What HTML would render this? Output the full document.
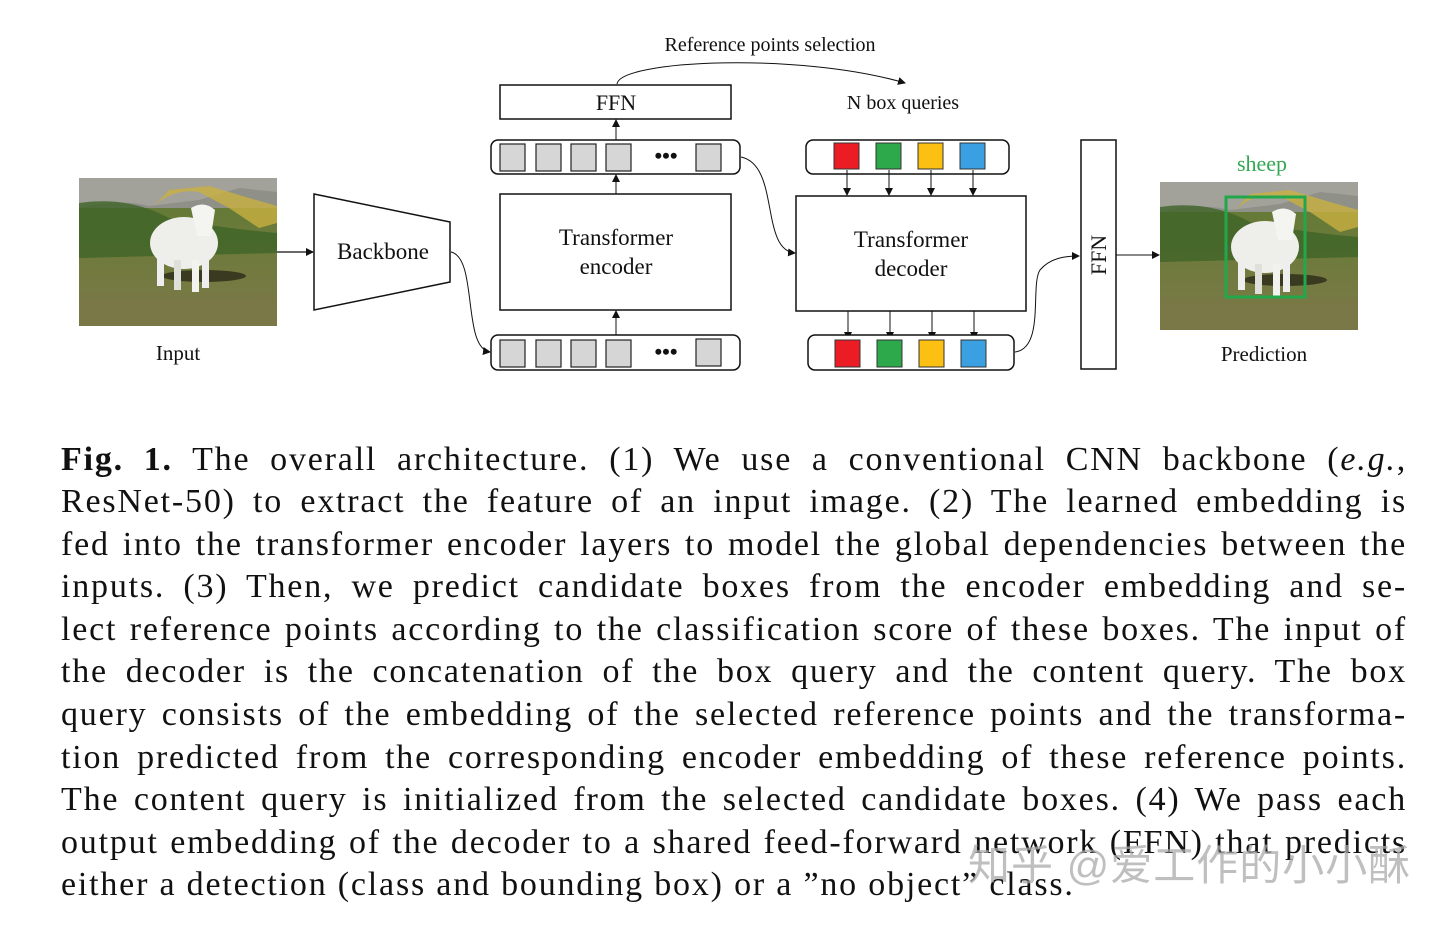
<!DOCTYPE html>
<html><head><meta charset="utf-8"><style>
html,body{margin:0;padding:0;background:#fff;}
body{width:1440px;height:928px;position:relative;overflow:hidden;}
svg{position:absolute;left:0;top:0;}
.ln{position:absolute;left:61px;width:1346px;font-family:"Liberation Serif",serif;font-size:34px;letter-spacing:1.8px;line-height:40px;color:#111;text-align:justify;text-align-last:justify;white-space:nowrap;}
.ln.last{text-align-last:left;}
.wm{position:absolute;left:968px;top:832px;font-family:"Liberation Sans","Noto Sans CJK SC",sans-serif;font-size:42px;color:rgba(170,170,170,0.75);letter-spacing:1px;white-space:nowrap;}
</style></head><body>
<svg width="1440" height="928" viewBox="0 0 1440 928" xmlns="http://www.w3.org/2000/svg">
<defs>
<marker id="ah" markerWidth="8" markerHeight="8" refX="7" refY="4" orient="auto" markerUnits="userSpaceOnUse"><path d="M0,0 L8,4 L0,8 z" fill="#111"/></marker>
<linearGradient id="grass" x1="0" y1="0" x2="0" y2="1"><stop offset="0" stop-color="#5f7a33"/><stop offset="0.5" stop-color="#6e7a3c"/><stop offset="1" stop-color="#7d7a4a"/></linearGradient>
<g id="photo">
<rect x="0" y="0" width="198" height="148" fill="url(#grass)"/>
<rect x="0" y="0" width="198" height="30" fill="#8f9088"/>
<path d="M0,30 Q40,20 70,28 L120,22 L160,10 L198,14 L198,0 L0,0z" fill="#a2a19a"/>
<path d="M75,28 Q95,10 120,14 L150,30 L180,50 L198,45 L198,28 L170,20 L130,8 L90,12z" fill="#c9b040" opacity="0.8"/>
<path d="M0,25 Q50,18 90,40 Q140,50 198,55 L198,75 L0,80z" fill="#3f6428" opacity="0.8"/>
<ellipse cx="125" cy="98" rx="42" ry="6" fill="#2a2a18" opacity="0.8"/>
<ellipse cx="105" cy="65" rx="34" ry="26" fill="#eeeeea"/>
<path d="M112,30 Q125,22 136,32 L132,58 L118,58z" fill="#f4f4f0"/>
<rect x="78" y="80" width="7" height="28" fill="#eee"/>
<rect x="95" y="82" width="7" height="30" fill="#e0e0da"/>
<rect x="113" y="82" width="7" height="32" fill="#f2f2ee"/>
<rect x="123" y="80" width="7" height="30" fill="#eee"/>
<rect x="0" y="115" width="198" height="33" fill="#7a7646" opacity="0.5"/>
</g>
</defs>
<g font-family="Liberation Serif, serif" fill="#111">
<use href="#photo" x="79" y="178"/>
<text x="178" y="360" font-size="21" text-anchor="middle">Input</text>
<line x1="277" y1="252" x2="313" y2="252" stroke="#111" stroke-width="1.2" marker-end="url(#ah)"/>
<polygon points="314,194 450,222 450,282 314,310" fill="#fff" stroke="#111" stroke-width="1.5"/>
<text x="383" y="259" font-size="23" text-anchor="middle">Backbone</text>
<path d="M451,252 C478,258 462,348 490,352" fill="none" stroke="#111" stroke-width="1" marker-end="url(#ah)"/>
<rect x="491" y="335" width="249" height="35" rx="7" fill="#fff" stroke="#111" stroke-width="1.5"/>
<g fill="#d6d6d6" stroke="#222" stroke-width="1.2">
<rect x="500" y="340" width="25" height="27"/><rect x="536" y="340" width="25" height="27"/><rect x="571" y="340" width="25" height="27"/><rect x="606" y="340" width="25" height="27"/><rect x="696" y="339" width="25" height="27"/>
</g>
<text x="666" y="359" font-size="22" text-anchor="middle" font-weight="bold">•••</text>
<rect x="500" y="194" width="231" height="116" fill="#fff" stroke="#111" stroke-width="1.5"/>
<text x="616" y="245" font-size="23" text-anchor="middle">Transformer</text>
<text x="616" y="274" font-size="23" text-anchor="middle">encoder</text>
<line x1="616" y1="335" x2="616" y2="311" stroke="#111" stroke-width="1" marker-end="url(#ah)"/>
<line x1="616" y1="194" x2="616" y2="175" stroke="#111" stroke-width="1" marker-end="url(#ah)"/>
<rect x="491" y="140" width="249" height="34" rx="7" fill="#fff" stroke="#111" stroke-width="1.5"/>
<g fill="#d6d6d6" stroke="#222" stroke-width="1.2">
<rect x="500" y="144" width="25" height="27"/><rect x="536" y="144" width="25" height="27"/><rect x="571" y="144" width="25" height="27"/><rect x="606" y="144" width="25" height="27"/><rect x="696" y="144" width="25" height="27"/>
</g>
<text x="666" y="163" font-size="22" text-anchor="middle" font-weight="bold">•••</text>
<line x1="616" y1="140" x2="616" y2="120" stroke="#111" stroke-width="1" marker-end="url(#ah)"/>
<rect x="500" y="85" width="231" height="34" fill="#fff" stroke="#111" stroke-width="1.5"/>
<text x="616" y="110" font-size="22" text-anchor="middle">FFN</text>
<path d="M617,84 C620,60 800,52 905,83" fill="none" stroke="#111" stroke-width="1" marker-end="url(#ah)"/>
<text x="770" y="51" font-size="20" text-anchor="middle">Reference points selection</text>
<text x="903" y="109" font-size="20" text-anchor="middle">N box queries</text>
<path d="M741,157 C780,165 760,250 795,253" fill="none" stroke="#111" stroke-width="1" marker-end="url(#ah)"/>
<rect x="806" y="140" width="203" height="34" rx="7" fill="#fff" stroke="#111" stroke-width="1.5"/>
<rect x="834" y="143" width="25" height="26" fill="#ec1c24" stroke="#333"/>
<rect x="876" y="143" width="25" height="26" fill="#2da84b" stroke="#333"/>
<rect x="918" y="143" width="25" height="26" fill="#fbc012" stroke="#333"/>
<rect x="960" y="143" width="25" height="26" fill="#3aa0e2" stroke="#333"/>
<g stroke="#111" stroke-width="1">
<line x1="847" y1="170" x2="847" y2="195" marker-end="url(#ah)"/><line x1="889" y1="170" x2="889" y2="195" marker-end="url(#ah)"/><line x1="931" y1="170" x2="931" y2="195" marker-end="url(#ah)"/><line x1="973" y1="170" x2="973" y2="195" marker-end="url(#ah)"/>
</g>
<rect x="796" y="196" width="230" height="115" fill="#fff" stroke="#111" stroke-width="1.5"/>
<text x="911" y="247" font-size="23" text-anchor="middle">Transformer</text>
<text x="911" y="276" font-size="23" text-anchor="middle">decoder</text>
<g stroke="#111" stroke-width="1">
<line x1="848" y1="311" x2="848" y2="339" marker-end="url(#ah)"/><line x1="890" y1="311" x2="890" y2="339" marker-end="url(#ah)"/><line x1="932" y1="311" x2="932" y2="339" marker-end="url(#ah)"/><line x1="974" y1="311" x2="974" y2="339" marker-end="url(#ah)"/>
</g>
<rect x="808" y="335" width="206" height="35" rx="7" fill="#fff" stroke="#111" stroke-width="1.5"/>
<rect x="835" y="340" width="25" height="27" fill="#ec1c24" stroke="#333"/>
<rect x="877" y="340" width="25" height="27" fill="#2da84b" stroke="#333"/>
<rect x="919" y="340" width="25" height="27" fill="#fbc012" stroke="#333"/>
<rect x="961" y="340" width="25" height="27" fill="#3aa0e2" stroke="#333"/>
<path d="M1015,352 C1045,348 1030,285 1040,270 C1050,258 1065,256 1079,256" fill="none" stroke="#111" stroke-width="1" marker-end="url(#ah)"/>
<rect x="1081" y="140" width="35" height="229" fill="#fff" stroke="#111" stroke-width="1.5"/>
<text transform="translate(1106,255) rotate(-90)" font-size="22" text-anchor="middle">FFN</text>
<line x1="1116" y1="255" x2="1159" y2="255" stroke="#111" stroke-width="1" marker-end="url(#ah)"/>
<use href="#photo" x="1160" y="182"/>
<rect x="1226" y="197" width="79" height="100" fill="none" stroke="#22a84a" stroke-width="3"/>
<text x="1262" y="171" font-size="22" text-anchor="middle" fill="#33a852">sheep</text>
<text x="1264" y="361" font-size="21" text-anchor="middle">Prediction</text>
</g>
</svg>
<div class="ln" style="top:440px"><b>Fig. 1.</b> The overall architecture. (1) We use a conventional CNN backbone (<i>e.g.</i>,</div>
<div class="ln" style="top:482px">ResNet-50) to extract the feature of an input image. (2) The learned embedding is</div>
<div class="ln" style="top:525px">fed into the transformer encoder layers to model the global dependencies between the</div>
<div class="ln" style="top:567px">inputs. (3) Then, we predict candidate boxes from the encoder embedding and se-</div>
<div class="ln" style="top:610px">lect reference points according to the classification score of these boxes. The input of</div>
<div class="ln" style="top:652px">the decoder is the concatenation of the box query and the content query. The box</div>
<div class="ln" style="top:695px">query consists of the embedding of the selected reference points and the transforma-</div>
<div class="ln" style="top:738px">tion predicted from the corresponding encoder embedding of these reference points.</div>
<div class="ln" style="top:780px">The content query is initialized from the selected candidate boxes. (4) We pass each</div>
<div class="ln" style="top:823px">output embedding of the decoder to a shared feed-forward network (FFN) that predicts</div>
<div class="ln last" style="top:865px">either a detection (class and bounding box) or a ”no object” class.</div>
<div class="wm">知乎 @爱工作的小小酥</div>
</body></html>
